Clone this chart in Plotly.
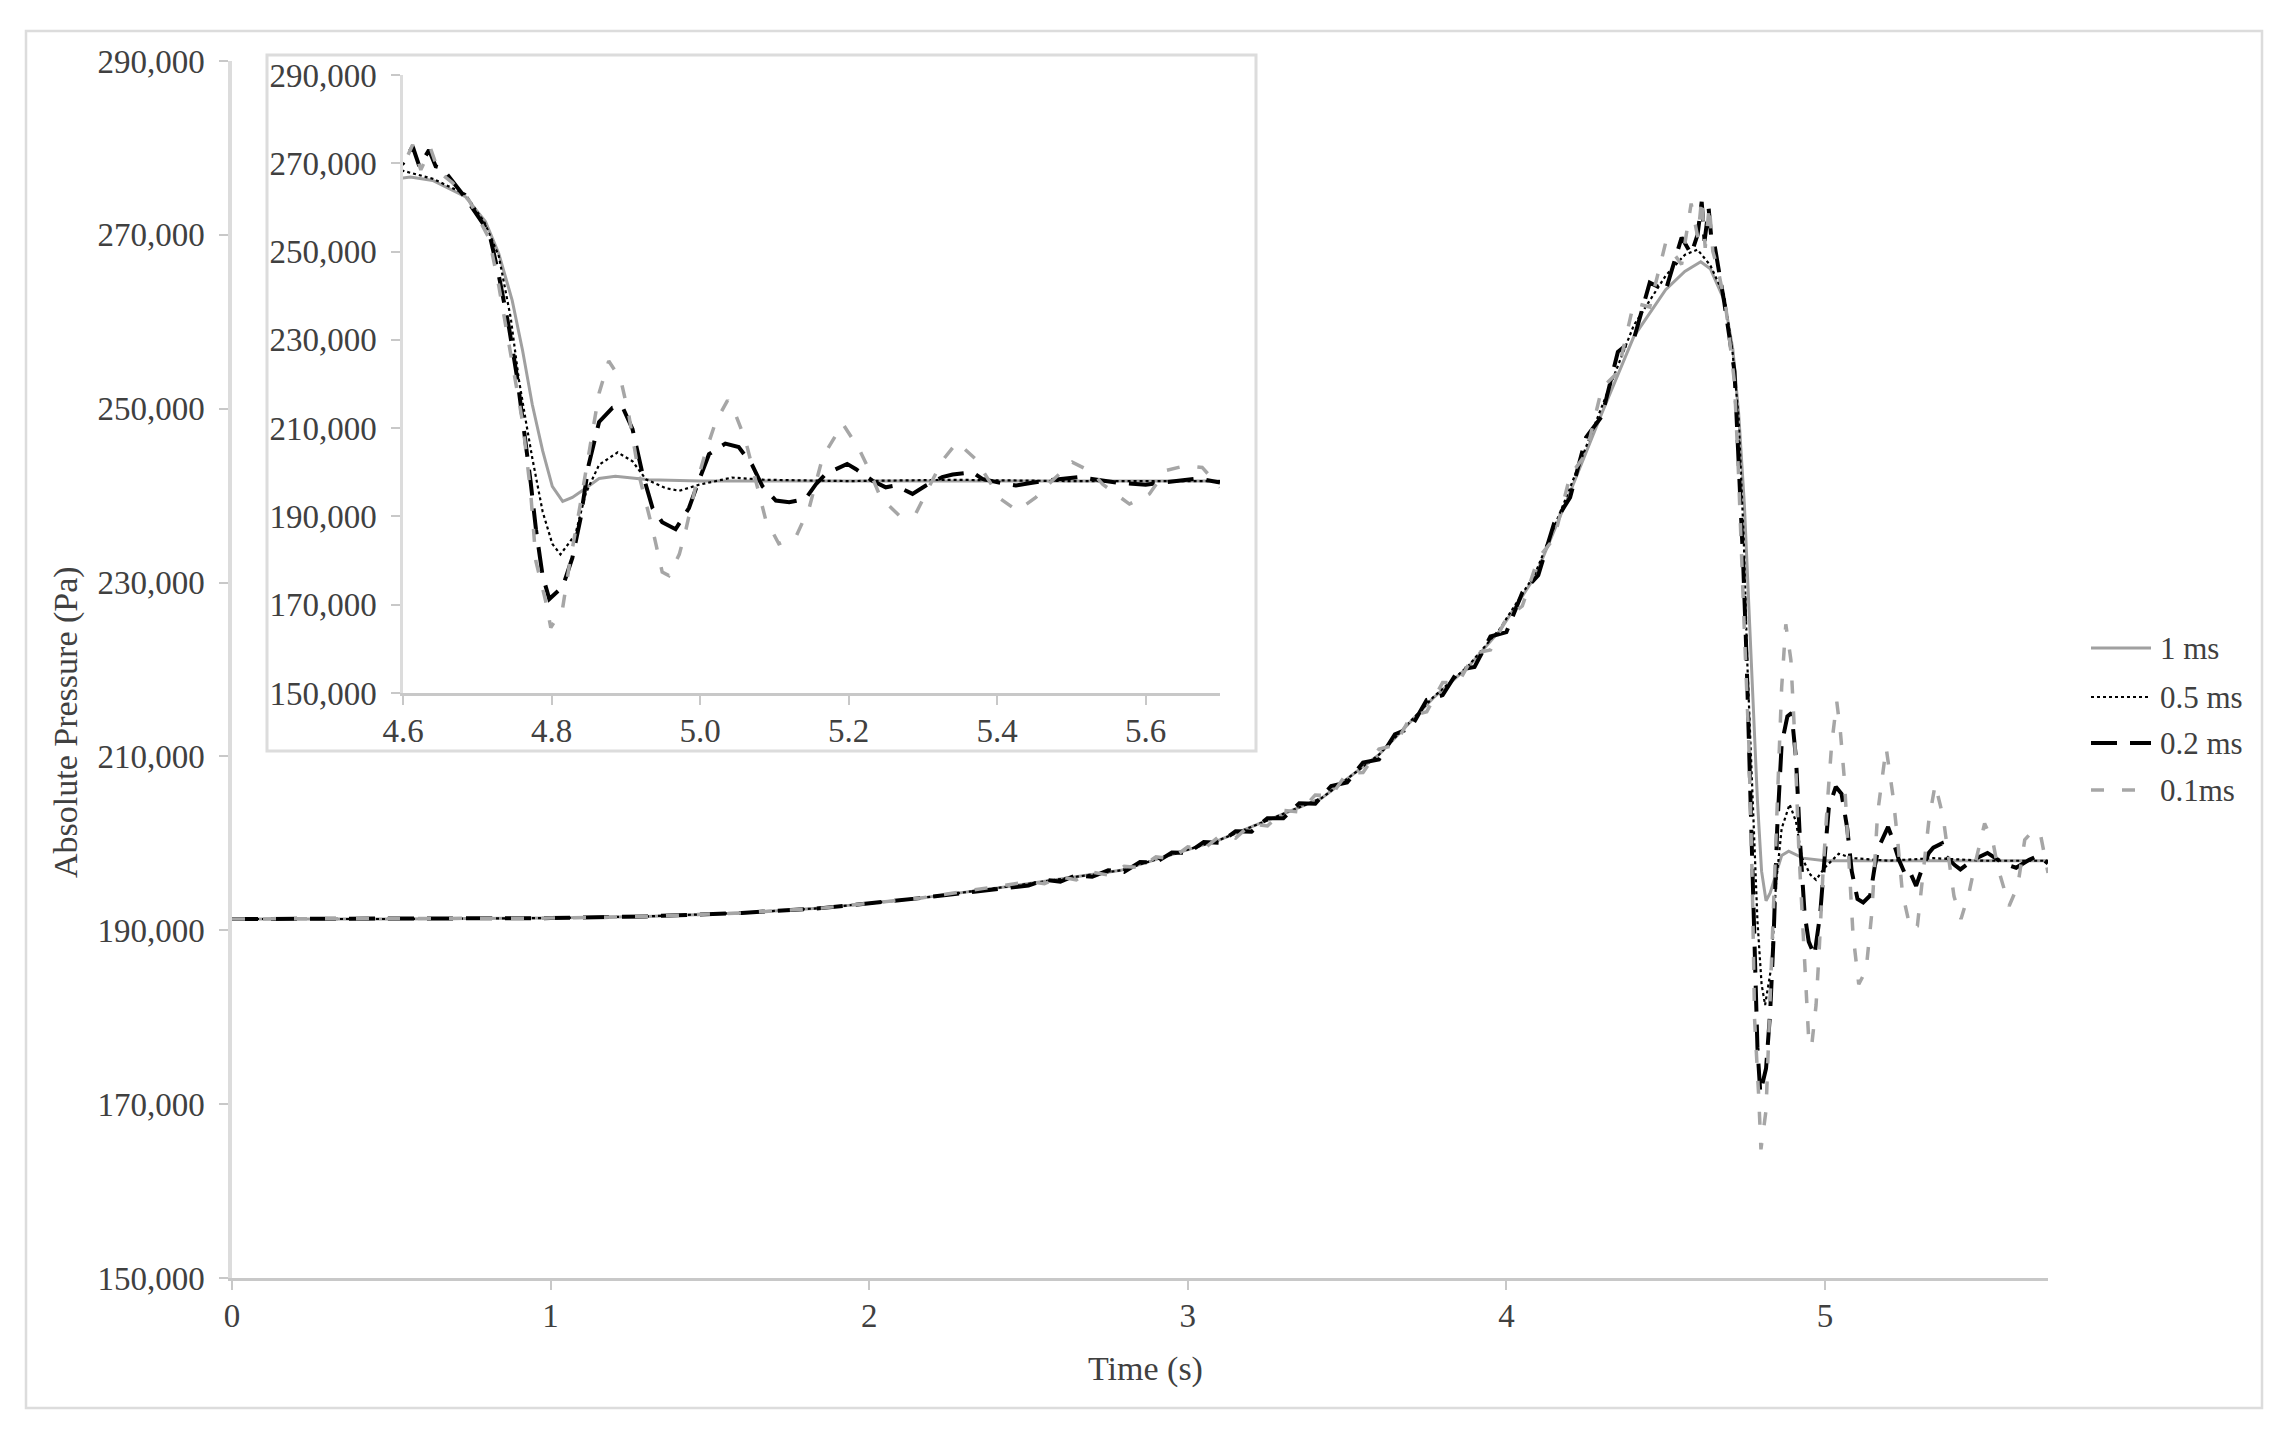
import plotly.graph_objects as go

# early part of the run, where all four time steps sit on top of each other
t_start = [0.0, 0.5, 1.0, 1.3, 1.6, 1.85, 2.16]
p_start = [191300, 191300, 191400, 191600, 192000, 192550, 193700]

# 1 ms
t_1ms = t_start + [2.47, 2.79, 3.1, 3.42, 3.6, 3.77, 3.88, 3.98, 4.09, 4.19,
                   4.3, 4.4, 4.5, 4.56, 4.61, 4.64,
                   4.684, 4.711, 4.729, 4.747, 4.761, 4.774, 4.788, 4.801, 4.815, 4.828,
                   4.846, 4.864, 4.886, 4.931, 5.0, 5.7]
p_1ms = p_start + [195200, 196900, 200400, 205200, 210200, 216700, 220300, 224500, 230700, 239500,
                   249500, 258300, 263700, 265800, 266900, 266100,
                   262450, 256800, 249500, 238950, 227600, 215400, 204900, 196800, 193400, 194300,
                   196400, 198600, 199100, 198300, 198000, 198000]

# 0.5 ms
t_05ms = t_start + [2.47, 2.79, 3.1, 3.42, 3.6, 3.77, 3.88, 3.98, 4.09, 4.19,
                    4.3, 4.4, 4.5, 4.56, 4.6, 4.64,
                    4.684, 4.71, 4.729, 4.745, 4.756, 4.766, 4.774, 4.788, 4.801, 4.812,
                    4.832, 4.846, 4.864, 4.889, 4.909, 4.927, 4.954, 4.972, 4.999, 5.043,
                    5.088, 5.2, 5.34, 5.5, 5.7]
p_05ms = p_start + [195200, 196900, 200400, 205200, 210200, 216800, 220400, 224700, 231000, 240000,
                    250300, 259600, 265300, 267700, 268300, 266500,
                    263000, 256500, 249000, 235000, 221000, 211000, 203300, 191100, 183800, 181400,
                    185900, 195200, 201700, 204500, 202500, 198400, 196400, 195800, 197200, 198800,
                    198300, 198000, 198300, 198000, 198000]

# time grid read along the wavy rise (2.5 s .. 4.55 s)
t_rise = [2.5, 2.55, 2.6, 2.65, 2.7, 2.75, 2.8, 2.85, 2.9, 2.95,
          3.0, 3.05, 3.1, 3.15, 3.2, 3.25, 3.3, 3.35, 3.4, 3.45,
          3.5, 3.55, 3.6, 3.65, 3.7, 3.75, 3.8, 3.85, 3.9, 3.95,
          4.0, 4.05, 4.1, 4.15, 4.2, 4.25, 4.3, 4.35, 4.4, 4.45,
          4.5, 4.55]

# 0.2 ms
t_02ms = t_start + t_rise + [
    4.58, 4.6, 4.613, 4.622, 4.635, 4.644, 4.653, 4.684, 4.716, 4.729,
    4.743, 4.754, 4.763, 4.772, 4.779, 4.788, 4.797, 4.815, 4.828, 4.839,
    4.85, 4.864, 4.882, 4.895, 4.909, 4.922, 4.936, 4.949, 4.967, 4.985,
    4.999, 5.012, 5.034, 5.052, 5.07, 5.084, 5.102, 5.12, 5.142, 5.156,
    5.169, 5.198, 5.21, 5.232, 5.25, 5.263, 5.286, 5.304, 5.326, 5.34,
    5.367, 5.38, 5.407, 5.425, 5.443, 5.465, 5.51, 5.528, 5.56, 5.6,
    5.641, 5.67, 5.7]
p_02ms = p_start + [
    195150, 195800, 195600, 196350, 196150, 196900, 196700, 197850, 197800, 198950,
    198900, 200150, 200050, 201400, 201350, 202900, 202900, 204600, 204550, 206600,
    207000, 209300, 209650, 212550, 213300, 216500, 217050, 219950, 220300, 223800,
    224300, 228850, 230850, 236850, 239800, 246700, 249150, 256550, 258000, 264500,
    263600, 269700] + [
    267800, 270000, 273800, 269300, 273000, 269300, 268900, 262200, 254300, 244600,
    232500, 221100, 209800, 197600, 187100, 176500, 171300, 174100, 180600, 189500,
    201700, 211400, 214600, 215000, 209800, 200000, 191900, 188700, 187100, 191900,
    198400, 204100, 206500, 205700, 201700, 196800, 193600, 193200, 194000, 197300,
    199600, 201900, 200700, 198100, 196600, 197000, 195100, 197000, 198900, 199500,
    200000, 198500, 197500, 197000, 197500, 198100, 198900, 198500, 197700, 197200,
    198100, 198600, 197700]

# 0.1 ms
t_01ms = t_start + t_rise + [
    4.58, 4.601, 4.613, 4.624, 4.637, 4.648, 4.666, 4.689, 4.716, 4.729,
    4.747, 4.761, 4.772, 4.779, 4.792, 4.799, 4.815, 4.824, 4.837, 4.853,
    4.864, 4.877, 4.893, 4.904, 4.918, 4.936, 4.949, 4.958, 4.972, 4.981,
    4.994, 5.008, 5.021, 5.037, 5.048, 5.061, 5.075, 5.088, 5.106, 5.129,
    5.147, 5.165, 5.192, 5.214, 5.228, 5.243, 5.268, 5.29, 5.308, 5.326,
    5.346, 5.371, 5.389, 5.405, 5.427, 5.452, 5.474, 5.501, 5.528, 5.542,
    5.578, 5.605, 5.627, 5.654, 5.676, 5.7]
p_01ms = p_start + [
    195600, 195350, 196150, 195800, 196700, 196350, 197350, 197200, 198450, 198250,
    199600, 199350, 200850, 200600, 202250, 202000, 203800, 203600, 205550, 205500,
    208100, 208150, 210850, 211300, 214600, 215150, 218500, 218500, 221850, 222250,
    225900, 227300, 232800, 235100, 242300, 244800, 252400, 254200, 262200, 261700,
    269100, 266600] + [
    273600, 269700, 274200, 268500, 273400, 268100, 265700, 261600, 253000, 242200,
    224400, 211400, 195200, 179800, 170900, 164800, 169300, 179000, 191100, 207300,
    217900, 225200, 221100, 213000, 199200, 187100, 177400, 176600, 181400, 187100,
    196800, 204900, 211400, 216300, 213000, 207300, 198400, 189500, 183800, 185400,
    192000, 203400, 211000, 205300, 200400, 194300, 190200, 190500, 196600, 202600,
    206800, 203000, 198100, 193900, 191300, 194300, 198100, 202300, 200000, 197300,
    192800, 195100, 200400, 201500, 201100, 196600]

series_names = ["1 ms", "0.5 ms", "0.2 ms", "0.1ms"]
series_t = [t_1ms, t_05ms, t_02ms, t_01ms]
series_p = [p_1ms, p_05ms, p_02ms, p_01ms]
series_style = [
    dict(color="#a0a0a0", width=3, dash="solid"),
    dict(color="#000000", width=2.2, dash="3px,3px"),
    dict(color="#000000", width=4, dash="26px,13px"),
    dict(color="#a6a6a6", width=3.5, dash="13px,18px"),
]

y_ticks = [150000, 170000, 190000, 210000, 230000, 250000, 270000, 290000]
x_ticks_main = [0, 1, 2, 3, 4, 5]
x_ticks_inset = [4.6, 4.8, 5.0, 5.2, 5.4, 5.6]

# page geometry in pixels
W, H = 2275, 1424
L, R, T, B = 224, 235, 53, 154
pw, ph = W - L - R, H - T - B


def px(x):
    return (x - L) / pw


def py(y):
    return (H - B - y) / ph


FONT = "Liberation Serif"
TXT = "#404040"
AX = "#c8c8c8"

fig = go.Figure()
for name, t, p, st in zip(series_names, series_t, series_p, series_style):
    fig.add_trace(go.Scatter(x=t, y=p, mode="lines", name=name, line=st,
                             showlegend=False))
    fig.add_trace(go.Scatter(x=t, y=p, mode="lines", name=name, line=st,
                             xaxis="x2", yaxis="y2", showlegend=False))

tick_font = dict(family=FONT, size=33, color=TXT)
axis_common = dict(showgrid=False, zeroline=False, showline=True, ticks="outside",
                   ticklen=9, tickwidth=2, tickcolor=AX, tickfont=tick_font)

fig.update_layout(
    width=W, height=H,
    margin=dict(l=L, r=R, t=T, b=B),
    paper_bgcolor="white", plot_bgcolor="white",
    xaxis=dict(range=[0, 5.7], tickvals=x_ticks_main, linecolor=AX, linewidth=2.5,
               ticklabelstandoff=-2, **axis_common),
    yaxis=dict(range=[150000, 290000], tickvals=y_ticks, tickformat=",",
               linecolor="#dcdcdc", linewidth=3.5, ticklabelstandoff=8, **axis_common),
    xaxis2=dict(domain=[px(395), px(1212)], anchor="y2", range=[4.6, 5.7],
                tickvals=x_ticks_inset, tickformat=".1f", linecolor=AX, linewidth=2.5,
                ticklabelstandoff=-2, **axis_common),
    yaxis2=dict(domain=[py(685), py(67)], anchor="x2", range=[150000, 290000],
                tickvals=y_ticks, tickformat=",", linecolor="#dcdcdc", linewidth=2.5,
                ticklabelstandoff=8, **axis_common),
)

shapes = [
    # outer chart border
    dict(type="rect", xref="paper", yref="paper", x0=px(18), x1=px(2254),
         y0=py(1400), y1=py(23), line=dict(color="#dcdcdc", width=2.5), layer="below"),
    # inset frame
    dict(type="rect", xref="paper", yref="paper", x0=px(259), x1=px(1248),
         y0=py(743), y1=py(47), fillcolor="white", line=dict(color="#dcdcdc", width=3),
         layer="below"),
]

# legend drawn by hand so the samples are long enough to show the dash patterns
legend_rows = [640, 689, 735, 782]
annotations = []
for name, st, row in zip(series_names, series_style, legend_rows):
    shapes.append(dict(type="line", xref="paper", yref="paper", x0=px(2083), x1=px(2143),
                       y0=py(row), y1=py(row), line=st))
    annotations.append(dict(text=name, xref="paper", yref="paper", x=px(2150), y=py(row),
                            xanchor="left", yanchor="middle", showarrow=False,
                            font=dict(family=FONT, size=31, color=TXT)))

annotations.append(dict(text="Absolute Pressure (Pa)", xref="paper", yref="paper",
                        x=px(58), y=py(714), textangle=-90, showarrow=False,
                        xanchor="center", yanchor="middle",
                        font=dict(family=FONT, size=34, color=TXT)))
annotations.append(dict(text="Time (s)", xref="paper", yref="paper",
                        x=px(1137), y=py(1361), showarrow=False,
                        xanchor="center", yanchor="middle",
                        font=dict(family=FONT, size=34, color=TXT)))

fig.update_layout(shapes=shapes, annotations=annotations)

fig.write_html("out.html")
